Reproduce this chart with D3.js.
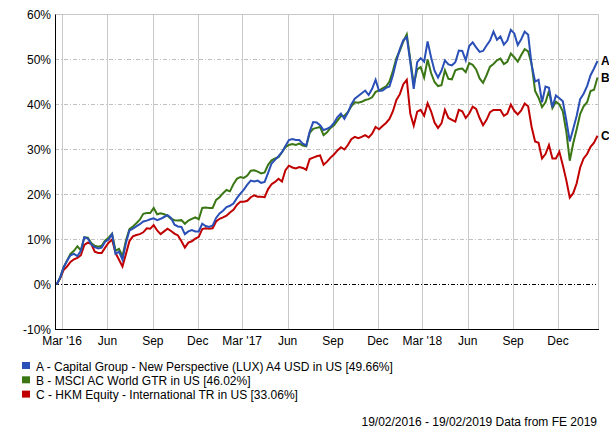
<!DOCTYPE html>
<html>
<head>
<meta charset="utf-8">
<script src="https://cdn.jsdelivr.net/npm/d3@7"></script>
<style>
  body { margin: 0; background: #fff; }
  svg { display: block; font-family: "Liberation Sans", Arial, sans-serif; }
</style>
</head>
<body>
<div id="chart"></div>
<script>
// weekly-ish samples, 19/02/2016 .. 19/02/2019 (percent growth)
var startDate = "2016-02-19"
var endDate = "2019-02-19"

var valuesA = [
  0, 1.5, 3.8, 5.2, 6.5, 6.8, 6.3, 7.5, 10.5, 10.2,
  8.9, 8.3, 8.0, 8.2, 9.5, 10.0, 11.2, 6.8, 7.3, 5.5,
  9.2, 12.0, 12.4, 12.9, 13.4, 14.0, 14.2, 14.5, 14.7, 14.3,
  14.6, 15.0, 15.4, 14.8, 13.3, 12.9, 12.8, 11.2, 11.8, 12.1,
  11.8, 11.8, 13.5, 13.0, 12.8, 13.1, 14.8, 15.8, 16.4, 17.2,
  17.5, 18.0, 19.2, 20.2, 21.1, 22.2, 23.1, 22.9, 23.1, 22.6,
  22.8, 24.8, 26.9, 27.7, 28.5, 29.4, 30.8, 32.1, 32.3, 32.1,
  32.1, 31.3, 30.9, 34.0, 36.1, 36.0, 35.4, 34.3, 34.6, 35.0,
  35.9, 37.2, 38.0, 36.8, 38.2, 40.0, 41.3, 41.9, 42.5, 43.1,
  42.1, 43.5, 45.5, 43.0, 43.1, 43.7, 44.0, 46.5, 49.7, 52.3,
  54.3, 55.0, 49.5, 43.5, 49.4, 50.3, 49.5, 54.0, 50.5, 47.5,
  46.0, 47.5, 49.8, 48.9, 48.7, 49.4, 52.0, 51.9, 49.8, 53.0,
  53.8, 52.7, 51.7, 51.9, 53.1, 54.2, 56.2, 54.4, 55.1, 53.3,
  54.2, 56.6, 55.8, 53.2, 54.5, 56.2, 55.5, 48.8, 45.1, 45.5,
  40.5, 44.0, 43.7, 39.4, 42.0, 41.4, 40.7, 36.5, 31.8, 34.6,
  37.5, 41.2, 42.4, 44.1, 46.5, 48.0, 49.66
]

var valuesB = [
  0, 1.5, 3.8, 5.3, 6.8, 7.5, 8.5, 7.6, 10.5, 10.4,
  9.2, 8.6, 8.4, 8.6, 9.8, 10.4, 11.3, 7.5, 7.9, 6.3,
  9.8, 12.3, 12.9, 13.6, 14.4, 15.7, 15.9, 15.9, 17.0, 15.6,
  15.8, 15.6, 15.3, 14.6, 14.3, 14.2, 14.3, 13.5, 14.2, 14.6,
  14.9, 14.5, 17.0, 17.1, 17.0, 17.0, 18.8, 19.4, 20.3, 21.0,
  20.7, 22.3, 23.5, 23.9, 23.7, 24.2, 25.3, 25.4, 25.1, 24.7,
  24.9, 26.6, 27.6, 28.0, 28.3, 29.4, 30.5, 31.0, 31.2, 31.0,
  31.3, 30.9, 30.7, 33.7, 34.6, 34.8, 35.0, 33.2, 33.8, 34.8,
  35.4, 36.4, 37.4, 37.5, 38.3, 39.6, 40.5, 40.4, 40.6, 41.0,
  41.2, 41.6, 42.8, 43.1, 43.6, 44.0, 45.1, 47.5, 50.3, 52.0,
  54.0, 55.6, 50.0, 44.5, 47.8, 48.3, 46.0, 50.0, 47.0, 45.0,
  44.1, 44.3, 47.6, 45.7, 45.6, 47.6, 47.9, 48.0, 47.2, 49.2,
  48.8, 47.8, 45.8, 44.8, 46.5, 48.4, 49.0, 49.8, 50.2, 49.0,
  49.5, 51.3, 50.5, 49.5, 51.0, 52.3, 51.8, 49.0, 43.0, 41.5,
  39.4, 40.5, 43.0, 39.2, 40.6, 40.0, 38.5, 34.0, 27.5, 31.4,
  34.5, 37.9, 39.6, 40.5, 43.0, 43.3, 46.02
]

var valuesC = [
  0, 1.3, 3.2, 4.0, 5.0, 5.6, 5.9, 6.5, 8.8, 9.3,
  9.0, 7.3, 7.0, 7.0, 8.2, 9.3, 10.0, 7.0, 5.5, 4.0,
  6.8, 9.6, 10.7, 11.0, 11.2, 11.6, 12.5, 12.4, 13.2, 12.0,
  11.2, 11.8, 12.4, 11.9, 11.3, 10.9, 9.6, 8.2, 9.3, 9.6,
  10.2, 10.6, 12.3, 12.5, 12.4, 12.5, 14.0, 14.6, 14.9, 15.3,
  16.0, 16.6, 17.7, 18.4, 18.4, 18.6, 19.4, 19.8, 19.5, 19.5,
  19.4, 21.2, 22.3, 22.8, 23.5, 22.9, 25.4, 26.4, 26.0, 25.8,
  26.1, 25.9, 25.5, 27.9, 28.2, 28.5, 28.7, 26.6, 27.3, 28.2,
  28.9, 29.8, 30.5, 30.0, 31.0, 32.3, 32.8, 32.5, 32.8, 33.2,
  32.7, 33.5, 35.0, 34.5, 35.2, 35.9, 36.8, 38.5, 41.0, 42.3,
  44.5, 45.5, 38.0, 35.3, 38.4, 38.8, 37.5, 40.3, 38.5, 36.0,
  34.8, 35.8, 38.8, 37.0, 36.6, 36.2, 38.8, 38.5, 37.0, 38.0,
  39.5, 39.0, 37.0, 35.4, 36.6, 38.3, 38.8, 38.8, 38.8, 37.5,
  38.0, 40.0, 38.6, 37.8, 38.7, 40.2, 39.6, 35.0, 31.8, 31.5,
  28.0, 29.0, 31.0, 28.0, 28.0, 29.5, 26.5, 23.2, 19.3, 20.3,
  22.5, 26.0, 28.0, 29.0, 30.6, 31.5, 33.06
]

var seriesNames = [
  "A - Capital Group - New Perspective (LUX) A4 USD in US [49.66%]",
  "B - MSCI AC World GTR in US [46.02%]",
  "C - HKM Equity - International TR in US [33.06%]"
]
var seriesKeys = ["A", "B", "C"]
var seriesColors = ["#2a4fb6", "#3a7714", "#c00000"]

var yTicks = [-10, 0, 10, 20, 30, 40, 50, 60]
var tickDates = ["2016-03-01", "2016-06-01", "2016-09-01", "2016-12-01",
  "2017-03-01", "2017-06-01", "2017-09-01", "2017-12-01",
  "2018-03-01", "2018-06-01", "2018-09-01", "2018-12-01"]
var tickLabels = ["Mar '16", "Jun", "Sep", "Dec", "Mar '17", "Jun", "Sep", "Dec",
  "Mar '18", "Jun", "Sep", "Dec"]

var footerText = "19/02/2016 - 19/02/2019 Data from FE 2019"

var width = 609, height = 428
var parse = d3.timeParse("%Y-%m-%d")
var t0 = parse(startDate), t1 = parse(endDate)

var svg = d3.select("#chart").append("svg")
  .attr("width", width)
  .attr("height", height)

var x = d3.scaleTime().domain([t0, t1]).range([56.6, 597.5])
var y = d3.scaleLinear().domain([-10, 60]).range([329.5, 14.5])

var plotLeft = 55, plotRight = 598, plotTop = 14.5, plotBottom = 329.5

// vertical grid
svg.append("g").selectAll("line")
  .data(tickDates)
  .join("line")
  .attr("x1", d => Math.round(x(parse(d))) + 0.5)
  .attr("x2", d => Math.round(x(parse(d))) + 0.5)
  .attr("y1", plotTop)
  .attr("y2", plotBottom)
  .attr("stroke", "#c8c8c8")

// horizontal grid
svg.append("g").selectAll("line")
  .data(yTicks.filter(d => d !== 0 && d !== -10 && d !== 60))
  .join("line")
  .attr("x1", plotLeft)
  .attr("x2", plotRight)
  .attr("y1", d => y(d))
  .attr("y2", d => y(d))
  .attr("stroke", "#c0c0c0")
  .attr("stroke-dasharray", "4,2,1,2")

// border top/right
svg.append("path")
  .attr("d", "M" + plotLeft + "," + plotTop + "H" + (plotRight + 0.5) + "V" + plotBottom)
  .attr("fill", "none")
  .attr("stroke", "#c8c8c8")

// zero line
svg.append("line")
  .attr("x1", plotLeft).attr("x2", 596)
  .attr("y1", y(0)).attr("y2", y(0))
  .attr("stroke", "#000")
  .attr("stroke-dasharray", "4,2,1,2")

// lines
var dates = valuesA.map((v, i) => new Date(+t0 + i * (t1 - t0) / (valuesA.length - 1)))
var allValues = [valuesA, valuesB, valuesC]

var line = d3.line()
  .x((d, i) => x(dates[i]))
  .y(d => y(d))

;[2, 1, 0].forEach(function(k) {
  svg.append("path")
    .datum(allValues[k])
    .attr("d", line)
    .attr("fill", "none")
    .attr("stroke", seriesColors[k])
    .attr("stroke-width", 2)
    .attr("stroke-linejoin", "miter")
})

// axes lines
svg.append("line")
  .attr("x1", plotLeft + 0.5).attr("x2", plotLeft + 0.5)
  .attr("y1", plotTop).attr("y2", plotBottom)
  .attr("stroke", "#000")
svg.append("line")
  .attr("x1", plotLeft).attr("x2", plotRight + 1)
  .attr("y1", plotBottom).attr("y2", plotBottom)
  .attr("stroke", "#000")

// y labels
svg.append("g").selectAll("text")
  .data(yTicks)
  .join("text")
  .attr("x", 51)
  .attr("y", d => y(d))
  .attr("dy", "0.35em")
  .attr("text-anchor", "end")
  .attr("font-size", 12)
  .text(d => d + "%")

// x labels
svg.append("g").selectAll("text")
  .data(tickDates)
  .join("text")
  .attr("x", d => x(parse(d)))
  .attr("y", 345)
  .attr("text-anchor", "middle")
  .attr("font-size", 12)
  .text((d, i) => tickLabels[i])

// end labels
seriesKeys.forEach(function(k, i) {
  var v = allValues[i]
  svg.append("text")
    .attr("x", 601)
    .attr("y", y(v[v.length - 1]))
    .attr("dy", "0.35em")
    .attr("font-size", 12)
    .attr("font-weight", "bold")
    .text(k)
})

// legend
var legend = svg.append("g")
seriesNames.forEach(function(name, i) {
  legend.append("rect")
    .attr("x", 22)
    .attr("y", 362 + i * 14.3)
    .attr("width", 8)
    .attr("height", 7)
    .attr("fill", seriesColors[i])
  legend.append("text")
    .attr("x", 36)
    .attr("y", 370.5 + i * 14.3)
    .attr("font-size", 12)
    .text(name)
})

svg.append("text")
  .attr("x", 597)
  .attr("y", 425.5)
  .attr("text-anchor", "end")
  .attr("font-size", 12)
  .text(footerText)
</script>
</body>
</html>
